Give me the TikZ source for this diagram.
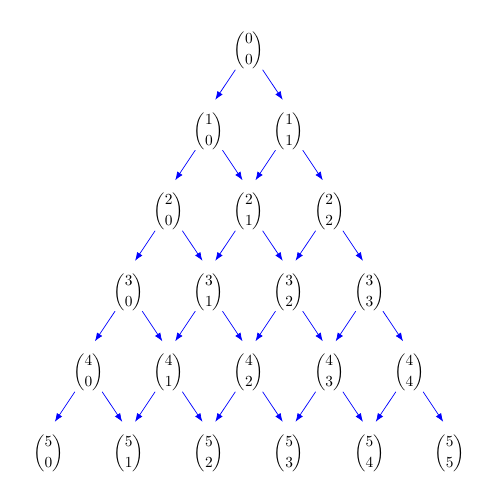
\documentclass[tikz,border=0pt]{standalone}
\usepackage{amsmath}
\usetikzlibrary{arrows.meta}
\tikzset{
  binomnode/.style={inner sep=3pt, font=\fontsize{11}{13.2}\selectfont},
  link/.style={-{Latex[length=6pt,width=4.5pt]}, blue, line width=0.5pt}
}
\begin{document}
\begin{tikzpicture}
\useasboundingbox (-6.225,1.2625) rectangle (6.275,-11.2375);
\foreach \n in {0,...,5}{
  \foreach \k in {0,...,\n}{
    \node[binomnode] (b\n-\k) at ({(2*\k-\n)*1.003}, {-\n*2.0125}) {$\displaystyle\binom{\n}{\k}$};
  }
}
\foreach \n in {0,...,4}{
  \pgfmathtruncatemacro{\m}{\n+1}
  \foreach \k in {0,...,\n}{
    \pgfmathtruncatemacro{\j}{\k+1}
    \draw[link] ([shift={(-0.34,-0.48)}]b\n-\k.center) -- ([shift={(0.16,0.78)}]b\m-\k.center);
    \draw[link] ([shift={(0.34,-0.48)}]b\n-\k.center) -- ([shift={(-0.16,0.78)}]b\m-\j.center);
  }
}
\end{tikzpicture}
\end{document}
